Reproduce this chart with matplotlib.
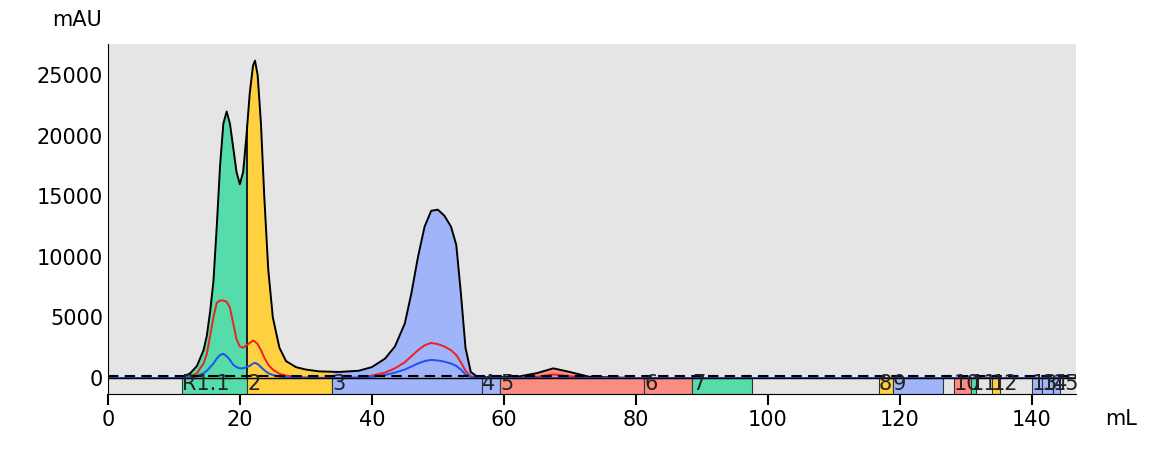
import numpy as np
import matplotlib.pyplot as plt
from matplotlib.patches import Rectangle

# UV trace (mL, mAU)
vol = [0, 11, 12.5, 13.5, 14.5, 15.0, 15.5, 16.0, 16.5, 17.0, 17.5, 18.0, 18.5, 19.0, 19.5, 20.0, 20.5,
       21.0, 21.5, 22.0, 22.3, 22.7, 23.2, 23.7, 24.3, 25.0, 26.0, 27.0, 28.5, 30.0, 32.0, 35.0, 38.0,
       40.0, 42.0, 43.5, 45.0, 46.0, 47.0, 48.0, 49.0, 50.0, 51.0, 52.0, 52.8, 53.5, 54.2, 55.0, 56.0,
       58.0, 62.0, 65.0, 67.5, 70.0, 73.0, 80.0, 146.5]
total = [0, 0, 400, 1000, 2300, 3500, 5500, 8000, 12500, 17500, 21000, 22000, 21000, 19000, 17000, 16000, 17000,
         20000, 23500, 25800, 26200, 25000, 21000, 15000, 9000, 5000, 2500, 1400, 900, 700, 550, 500, 600,
         900, 1600, 2600, 4500, 7000, 10000, 12500, 13800, 13900, 13400, 12500, 11000, 7000, 2500, 500, 100,
         50, 100, 400, 800, 500, 100, 0, 0]
red = [0, 0, 100, 400, 1200, 2000, 3500, 5000, 6200, 6400, 6400, 6300, 5800, 4500, 3200, 2600, 2500,
       2700, 2900, 3100, 3000, 2800, 2300, 1700, 1100, 700, 350, 200, 100, 50, 20, 0, 50,
       200, 450, 800, 1300, 1800, 2300, 2700, 2900, 2800, 2600, 2300, 1900, 1300, 600, 150, 30,
       0, 0, 100, 300, 150, 0, 0, 0]
blue = [0, 0, 50, 150, 400, 600, 900, 1200, 1600, 1900, 2000, 1800, 1500, 1100, 900, 800, 800,
        900, 1000, 1200, 1250, 1150, 900, 650, 400, 250, 120, 60, 30, 10, 0, 0, 20,
        100, 250, 450, 700, 950, 1200, 1400, 1500, 1450, 1350, 1200, 1000, 700, 300, 80, 10,
        0, 0, 0, 0, 0, 0, 0, 0]

# fractions: start, end, label, colour
frac_start = [11.2, 21.1, 34.0, 56.7, 59.5, 81.3, 88.6, 116.8, 119.0, 128.2, 130.8, 134.0, 140.0, 141.6, 143.2]
frac_end   = [21.1, 34.0, 56.7, 59.5, 81.3, 88.6, 97.6, 119.0, 126.5, 130.8, 131.6, 135.2, 141.6, 143.2, 144.3]
frac_label = ["R1.1", "2", "3", "4", "5", "6", "7", "8", "9", "10", "11", "12", "13", "14", "15"]
frac_color = ["#55dcaa", "#ffd040", "#a0b4fa", "#a0b4fa", "#fa8c82", "#fa8c82", "#55dcaa", "#ffd040",
              "#a0b4fa", "#fa8c82", "#55dcaa", "#ffd040", "#a0b4fa", "#a0b4fa", "#a0b4fa"]

fig = plt.figure(figsize=(11.6, 4.55), dpi=100)
ax = fig.add_axes([0.093, 0.134, 0.835, 0.769])
ax.set_facecolor("#e5e5e5")
ax.set_xlim(0, 146.8)
ax.set_ylim(-1320, 27560)

v = np.array(vol, float)
t = np.array(total, float)
for s, e, lab, c in zip(frac_start, frac_end, frac_label, frac_color):
    m = (v > s) & (v < e)
    xs = np.concatenate([[s], v[m], [e]])
    ys = np.concatenate([[np.interp(s, v, t)], t[m], [np.interp(e, v, t)]])
    ax.fill_between(xs, 0, ys, color=c, lw=0)
    ax.add_patch(Rectangle((s, -1320), e - s, 1320, facecolor=c, edgecolor="#333333", lw=0.8))
    ax.text(s, -1320, lab, fontsize=15, color="#222222", va="bottom", ha="left")

# fraction boundary inside the first peak
ax.plot([21.1, 21.1], [0, np.interp(21.1, v, t)], color="black", lw=1.2)
ax.plot(vol, total, color="black", lw=1.4)
ax.plot(vol, red, color="#ee2020", lw=1.4)
ax.plot(vol, blue, color="#2050ee", lw=1.4)
ax.axhline(150, color="black", lw=1.5, ls=(0, (5, 3)))
ax.axhline(0, color="black", lw=1.0)

for sp in ["top", "right"]:
    ax.spines[sp].set_visible(False)
ax.set_xticks(range(0, 141, 20))
ax.set_yticks(range(0, 25001, 5000))
ax.tick_params(labelsize=15, length=8, width=1.5)
ax.tick_params(axis="y", length=0)
fig.text(0.045, 0.955, "mAU", fontsize=15, va="center")
fig.text(0.953, 0.08, "mL", fontsize=15, va="center")

fig.savefig("out.png")
